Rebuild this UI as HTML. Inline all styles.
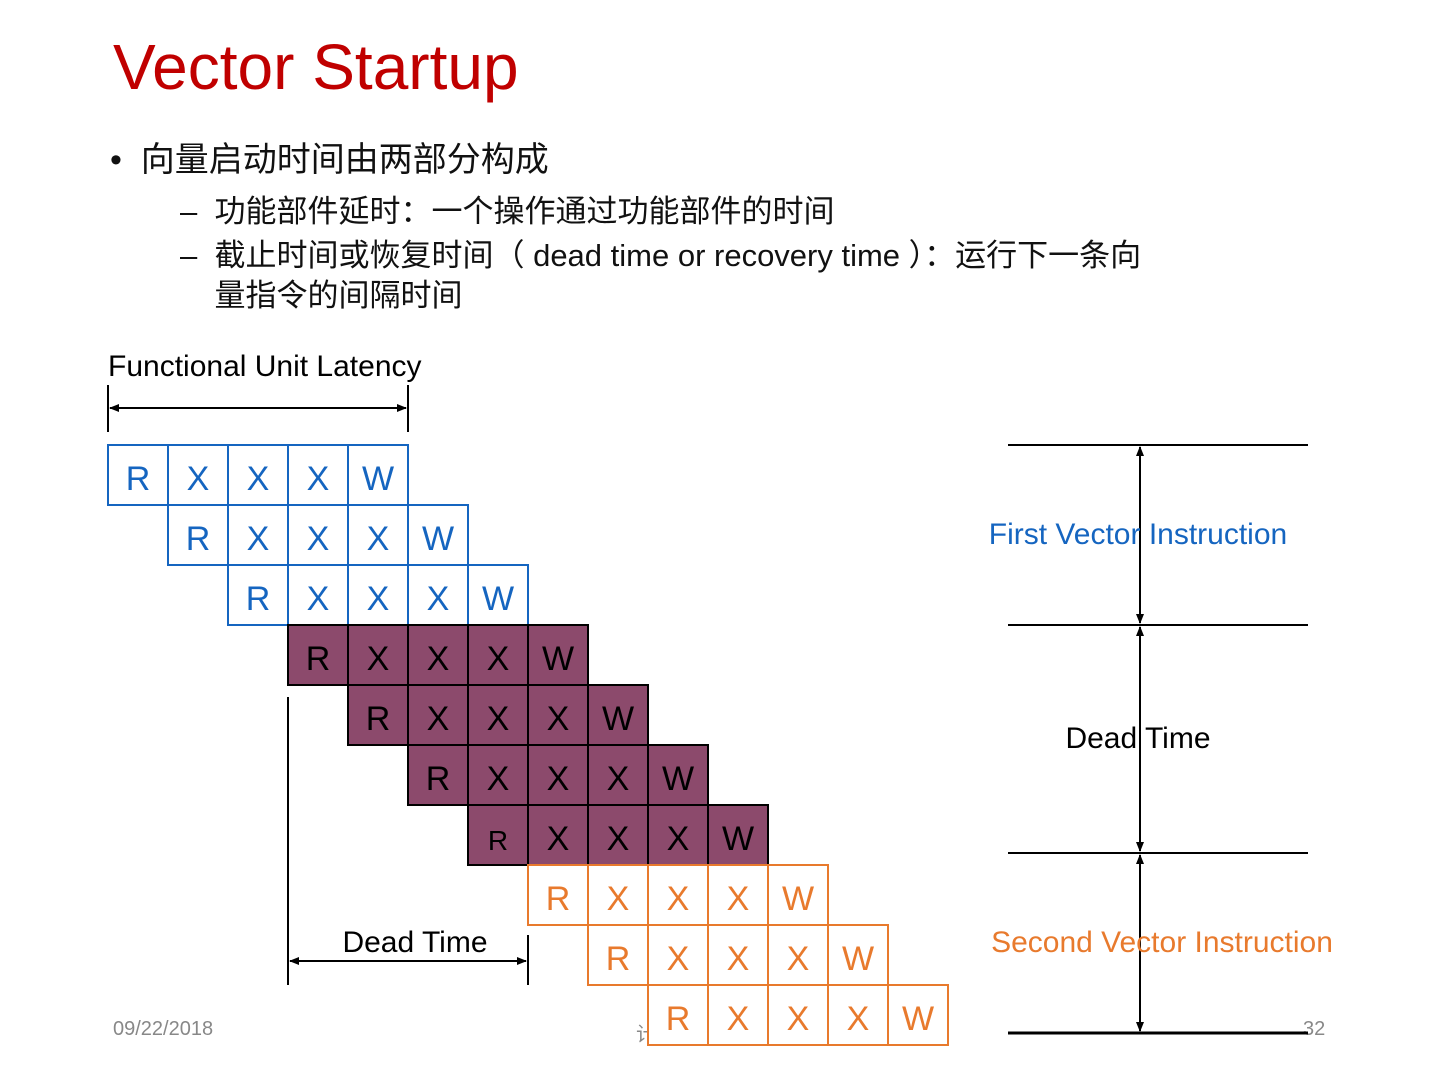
<!DOCTYPE html>
<html><head><meta charset="utf-8"><style>
body{margin:0;width:1440px;height:1080px;background:#fff;overflow:hidden;position:relative;font-family:"Liberation Sans","Noto Sans CJK SC",sans-serif}
.t{position:absolute;white-space:nowrap}
</style></head><body>
<div class="t" style="left:113px;top:30px;font-size:64px;color:#C00000">Vector Startup</div>
<div class="t" style="left:110px;top:132px;font-size:34px;color:#111">•&nbsp; 向量启动时间由两部分构成</div>
<div class="t" style="left:180px;top:186px;font-size:31px;color:#111">–&nbsp; 功能部件延时：一个操作通过功能部件的时间</div>
<div class="t" style="left:180px;top:236px;font-size:31px;color:#111;line-height:40px">–&nbsp; 截止时间或恢复时间（ dead time or recovery time ）：运行下一条向<br>&nbsp;&nbsp;&nbsp;&nbsp;量指令的间隔时间</div>
<div class="t" style="left:113px;top:1018px;font-size:20px;color:#888">09/22/2018</div>
<div class="t" style="left:636px;top:1018px;font-size:20px;color:#888">计</div>
<div class="t" style="left:1303px;top:1018px;font-size:20px;color:#888">32</div>
<svg width="1440" height="1080" style="position:absolute;left:0;top:0" font-family="Liberation Sans, sans-serif">
<defs><marker id="a" markerWidth="10" markerHeight="10" refX="9" refY="5" orient="auto-start-reverse" markerUnits="userSpaceOnUse"><path d="M0,1 L10,5 L0,9z" fill="#000"/></marker></defs>
<text x="108" y="376" font-size="30" fill="#000">Functional Unit Latency</text>
<line x1="108" y1="385" x2="108" y2="432" stroke="#000" stroke-width="2"/>
<line x1="408" y1="385" x2="408" y2="432" stroke="#000" stroke-width="2"/>
<line x1="110" y1="408" x2="406" y2="408" stroke="#000" stroke-width="2" marker-start="url(#a)" marker-end="url(#a)"/>
<g id="g"></g>
<line x1="1008" y1="445" x2="1308" y2="445" stroke="#000" stroke-width="2"/>
<line x1="1008" y1="625" x2="1308" y2="625" stroke="#000" stroke-width="2"/>
<line x1="1008" y1="853" x2="1308" y2="853" stroke="#000" stroke-width="2"/>
<line x1="1008" y1="1033" x2="1308" y2="1033" stroke="#000" stroke-width="3"/>
<line x1="1140" y1="447" x2="1140" y2="623" stroke="#000" stroke-width="2" marker-start="url(#a)" marker-end="url(#a)"/>
<line x1="1140" y1="627" x2="1140" y2="851" stroke="#000" stroke-width="2" marker-start="url(#a)" marker-end="url(#a)"/>
<line x1="1140" y1="855" x2="1140" y2="1031" stroke="#000" stroke-width="2" marker-start="url(#a)" marker-end="url(#a)"/>
<text x="1138" y="544" font-size="30" fill="#1565C0" text-anchor="middle">First Vector Instruction</text>
<text x="1138" y="748" font-size="30" fill="#000" text-anchor="middle">Dead Time</text>
<text x="1162" y="952" font-size="30" fill="#E87A2D" text-anchor="middle">Second Vector Instruction</text>
<line x1="288" y1="697" x2="288" y2="985" stroke="#000" stroke-width="2"/>
<line x1="528" y1="935" x2="528" y2="985" stroke="#000" stroke-width="2"/>
<line x1="290" y1="961" x2="526" y2="961" stroke="#000" stroke-width="2" marker-start="url(#a)" marker-end="url(#a)"/>
<text x="415" y="952" font-size="30" fill="#000" text-anchor="middle">Dead Time</text>
</svg>
<script>
var g=document.getElementById('g'),s='',L=['R','X','X','X','W'];
for(var i=0;i<10;i++){var fill,st,tc;
if(i<3){fill='#fff';st='#1565C0';tc='#1565C0';}else if(i<7){fill='#8C4A6C';st='#000';tc='#000';}else{fill='#fff';st='#E87A2D';tc='#E87A2D';}
for(var j=0;j<5;j++){var x=108+60*(i+j),y=445+60*i;
s+='<rect x="'+x+'" y="'+y+'" width="60" height="60" fill="'+fill+'" stroke="'+st+'" stroke-width="2"/>';
s+='<text x="'+(x+30)+'" y="'+(y+45)+'" font-size="'+(i==6&&j==0?28:34)+'" fill="'+tc+'" text-anchor="middle">'+L[j]+'</text>';}}
g.innerHTML=s;
</script>
</body></html>
